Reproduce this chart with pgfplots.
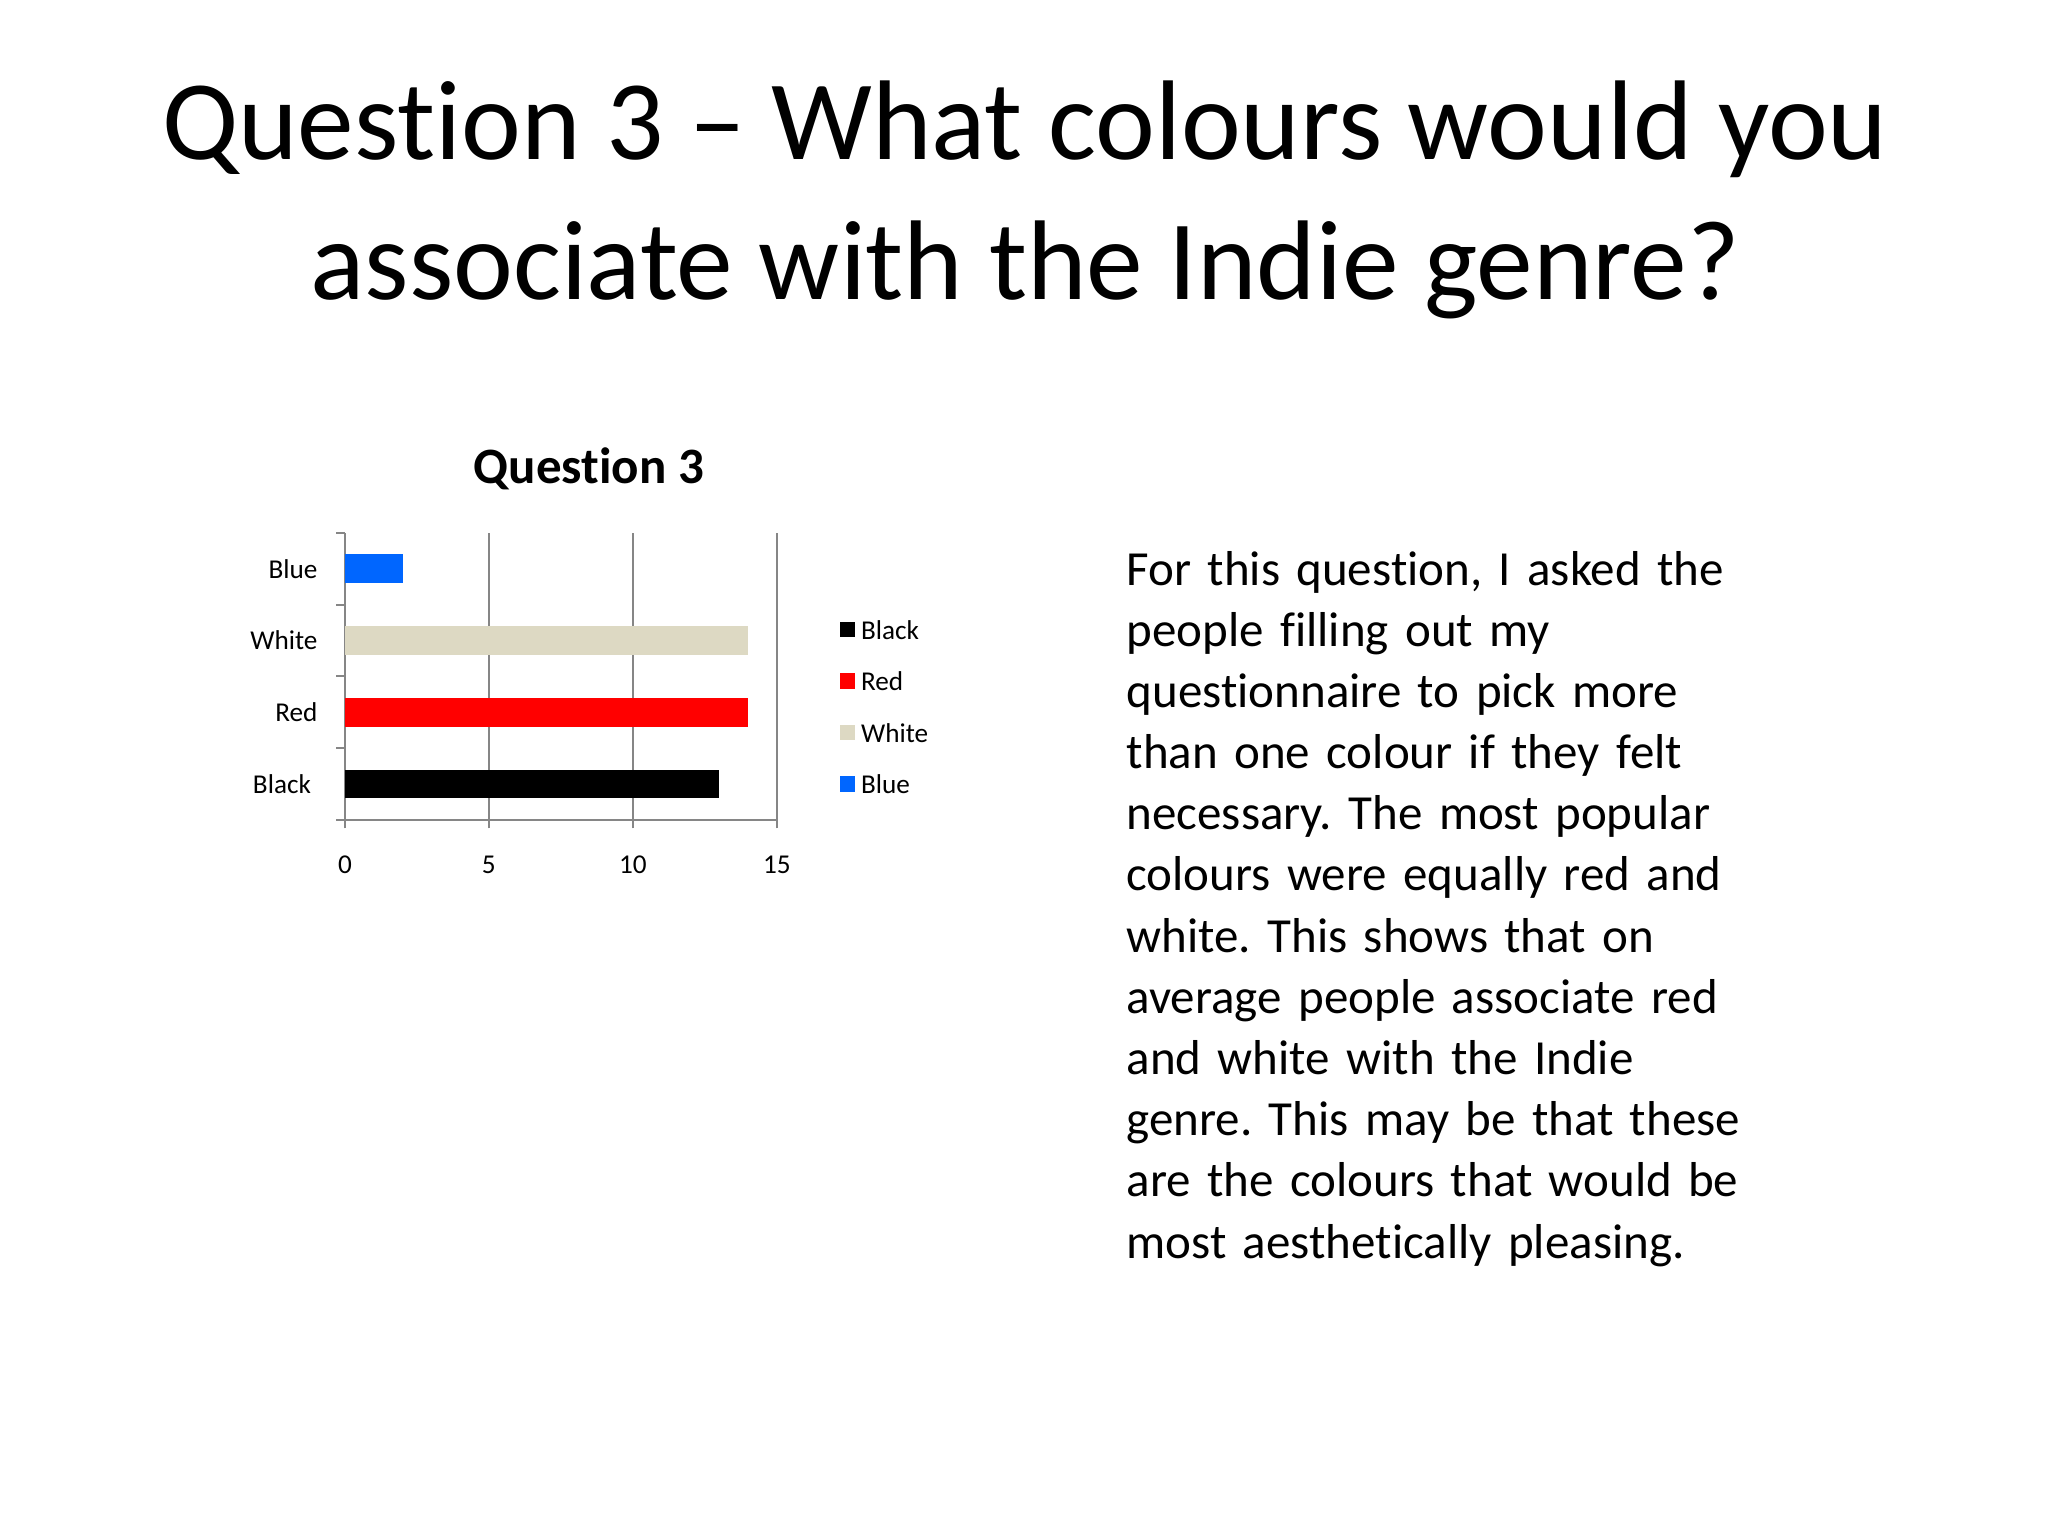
\documentclass[border=0pt]{standalone}
\usepackage{fontspec}
\setmainfont{Carlito}[Ligatures=NoCommon]
\usepackage{pgfplots}
\pgfplotsset{compat=1.18}
\definecolor{barblue}{HTML}{0066FF}
\definecolor{barwhite}{HTML}{DDD9C3}
\definecolor{axgray}{HTML}{868686}
\frenchspacing

\begin{document}
\begin{tikzpicture}[x=0.0124023cm,y=-0.0124023cm]
% slide background, 1 unit = 1 px of the 2048x1536 slide
\fill[white] (0,0) rectangle (2048,1536);

\node[anchor=base,inner sep=0pt,font=\fontsize{40}{48}\selectfont] at (1025,160) {Question 3 – What colours would you};
\node[anchor=base,inner sep=0pt,font=\fontsize{40}{48}\selectfont] at (1025,299) {associate with the Indie genre?};

\node[anchor=base west,inner sep=0pt,text width=9cm,align=left,
      font=\fontsize{17.3}{21.6}\selectfont] at (1126,585)
  {For this question, I asked the\\
   people filling out my\\
   questionnaire to pick more\\
   than one colour if they felt\\
   necessary. The most popular\\
   colours were equally red and\\
   white. This shows that on\\
   average people associate red\\
   and white with the Indie\\
   genre. This may be that these\\
   are the colours that would be\\
   most aesthetically pleasing.};

\node[anchor=base,inner sep=0pt,font=\fontsize{18}{21.6}\selectfont\bfseries] at (589,483) {Question 3};

\begin{axis}[
    at={(4.2788cm,-10.1699cm)}, anchor=south west,
    scale only axis,
    width=5.358cm, height=3.559cm,
    xmin=0, xmax=15, ymin=-0.5, ymax=3.5,
    xbar, bar width=0.4, bar shift=0pt,
    axis x line=bottom, axis y line=left,
    axis line style={-, axgray, line width=0.8pt},
    tick align=outside,
    xtick={0,5,10,15},
    xmajorgrids,
    major grid style={axgray, line width=0.8pt},
    ytick={0,1,2,3},
    yticklabels={Black\kern2.3pt,Red,White,Blue},
    minor ytick={-0.5,0.5,1.5,2.5,3.5},
    major tick length=3pt, minor tick length=3pt,
    major x tick style={axgray, line width=0.8pt},
    major y tick style={draw=none},
    minor y tick style={axgray, line width=0.8pt},
    tick label style={font=\fontsize{9.6}{11}\selectfont},
    /pgf/number format/assume math mode=true,
    yticklabel style={inner sep=0pt, xshift=-6.5pt},
    xticklabel style={anchor=base, inner sep=0pt, yshift=-16pt},
    legend image code/.code={
        \path[fill=none, draw=none] (0pt,-2.5pt) rectangle (7.3pt,7.6pt);
        \fill[#1] (0pt,-2.45pt) rectangle (5.3pt,3.05pt);
    },
    legend cell align=left,
    legend style={draw=none, fill=none, inner sep=0pt,
        at={(1.1458,0.737)}, anchor=north west,
        font=\fontsize{9.6}{11}\selectfont,
        row sep=6.05pt,
        nodes={inner sep=0pt, text height=7.6pt, text depth=1.4pt}},
]
\addplot[fill=black, draw=none] coordinates {(13,0)};
\addplot[fill=red, draw=none] coordinates {(14,1)};
\addplot[fill=barwhite, draw=none] coordinates {(14,2)};
\addplot[fill=barblue, draw=none] coordinates {(2,3)};
\legend{Black,Red,White,Blue}
\end{axis}
\end{tikzpicture}
\end{document}
